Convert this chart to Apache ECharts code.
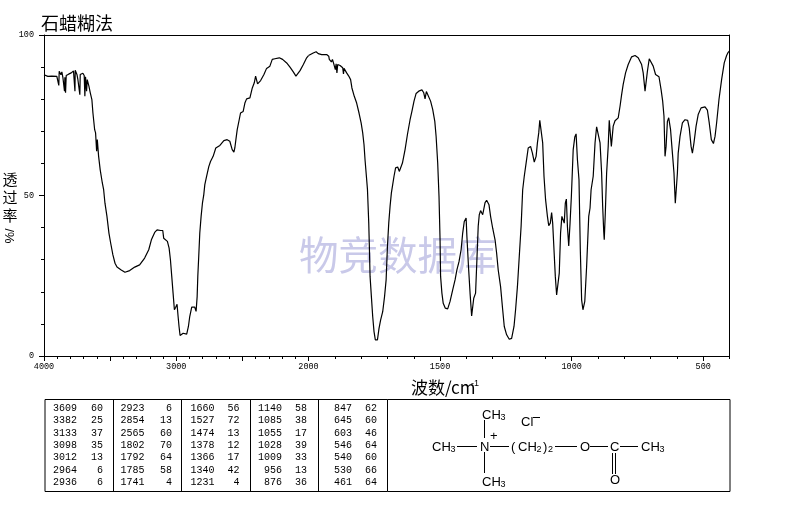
<!DOCTYPE html>
<html>
<head>
<meta charset="utf-8">
<style>html,body{margin:0;padding:0;background:#fff}#c{width:794px;height:510px}</style>
<script src="https://cdn.jsdelivr.net/npm/echarts@6/dist/echarts.min.js"></script>
</head>
<body>
<div id="c"></div>
<script>
const title = '石蜡糊法';
const watermark = '物竞数据库';
const yLabels = [0, 50, 100];
const xLabelsHigh = [4000, 3000, 2000];
const xLabelsLow = [1500, 1000, 500];
const xTicksLow = [1900,1800,1700,1600,1400,1300,1200,1100,900,800,700,600,400];

const wnHigh = [4000,3971,3941,3926,3903,3890,3888,3885,3872,3865,3857,3847,3845,3842,3837,3832,3814,3794,3777,3769,3766,3764,3751,3744,3736,3729,3726,3716,3706,3696,3691,3686,3678,3673,3660,3650,3638,3630,3617,3610,3602,3597,3587,3575,3559,3549,3539,3524,3509,3496,3479,3463,3448,3416,3388,3352,3314,3277,3239,3208,3188,3163,3145,3130,3118,3102,3095,3082,3067,3054,3044,3034,3024,3014,3004,2994,2986,2979,2971,2948,2921,2908,2898,2883,2860,2850,2842,2837,2830,2822,2812,2802,2792,2784,2771,2754,2741,2721,2701,2670,2640,2615,2595,2577,2564,2557,2549,2539,2524,2514,2494,2481,2468,2443,2425,2410,2400,2393,2385,2375,2362,2337,2317,2292,2274,2254,2221,2196,2165,2140,2115,2095,2082,2064,2039,2014,2000];
const tHigh = [87.6,87.1,87.2,87.5,87.1,87.3,84.3,88.7,87.6,88.5,86.7,86.1,82.5,86.8,82.0,87.4,87.8,88.2,88.8,89.0,82.5,89.0,87.7,86.2,86.1,81.4,87.7,88.2,88.1,87.4,80.9,87.0,82.5,86.1,84.0,82.0,79.9,75.7,70.5,69.5,63.8,67.4,62.2,58.0,53.9,51.8,47.6,43.5,38.3,35.2,31.5,28.9,27.7,26.8,26.1,26.6,27.7,28.4,30.5,33.1,36.2,38.5,39.3,39.8,39.1,39.1,36.7,37.2,35.7,33.6,30.0,24.8,19.6,14.4,15.2,16.1,12.3,9.2,6.4,7.1,6.8,9.2,12.3,15.2,15.2,13.9,18.5,24.8,31.0,38.3,43.5,47.6,50.2,53.4,55.9,59.0,60.6,62.2,64.8,65.6,67.1,67.4,66.9,64.3,63.5,64.8,67.4,70.5,73.6,75.7,76.2,78.8,80.1,80.4,83.5,85.1,87.2,87.2,84.8,84.4,85.8,87.7,89.6,90.3,92.4,92.6,92.9,92.4,91.3,90.0,88.5,87.2,87.2,88.9,90.8,92.9,93.6];

const wnLow = [2000,1994,1982,1971,1963,1950,1931,1923,1921,1917,1913,1909,1905,1902,1898,1895,1892,1889,1880,1870,1867,1865,1855,1847,1840,1835,1826,1817,1808,1800,1794,1789,1785,1780,1776,1771,1769,1766,1761,1756,1751,1746,1738,1732,1726,1718,1711,1705,1700,1695,1690,1685,1680,1675,1669,1661,1655,1650,1643,1633,1624,1614,1607,1599,1591,1581,1569,1562,1557,1552,1546,1536,1528,1520,1515,1509,1504,1500,1498,1493,1488,1480,1471,1462,1452,1443,1436,1428,1420,1414,1408,1401,1398,1392,1386,1380,1376,1372,1365,1361,1355,1351,1346,1338,1329,1323,1314,1308,1300,1291,1285,1279,1270,1262,1256,1247,1237,1228,1219,1213,1206,1199,1192,1186,1180,1173,1165,1156,1149,1142,1135,1130,1125,1121,1115,1110,1105,1099,1092,1087,1081,1076,1072,1067,1062,1057,1052,1047,1042,1037,1033,1028,1024,1020,1016,1011,1006,1001,994,988,983,978,972,967,962,957,950,943,935,930,926,918,911,905,899,892,886,882,878,876,872,867,861,857,853,849,847,842,835,823,816,810,804,795,785,772,759,747,734,728,721,717,712,705,698,690,681,668,660,654,649,645,641,636,631,624,617,611,606,602,598,595,588,579,569,559,553,546,541,535,527,519,508,493,484,477,469,461,455,449,440,430,420,411,405,400];
const tLow = [93.6,94.1,94.4,94.8,94.2,93.9,93.9,93.4,92.4,92.9,91.6,92.4,91.3,90.8,89.2,91.0,88.2,90.8,90.5,89.8,87.9,89.6,88.2,87.2,86.1,83.5,80.9,78.8,75.7,72.6,69.5,65.8,61.0,56.0,52.0,41.4,35.1,24.8,18.5,12.3,7.6,5.0,5.0,8.6,11.2,13.8,18.5,23.7,34.1,41.4,46.6,50.8,53.4,56.0,58.6,58.9,57.5,57.0,60.1,64.3,69.0,73.6,76.2,79.4,81.8,82.5,82.9,82.0,80.1,82.4,81.8,79.4,76.8,73.1,68.4,60.1,49.7,36.2,24.8,19.6,16.4,14.9,14.7,17.0,20.6,23.7,26.8,29.4,33.1,38.3,41.9,43.0,37.2,27.9,19.6,12.5,12.8,18.0,19.6,27.9,40.4,44.0,45.3,44.0,47.8,48.5,47.1,43.5,39.8,36.2,32.0,26.8,21.6,14.4,9.2,6.6,5.2,5.5,9.2,14.4,21.6,31.0,40.4,51.8,56.0,60.1,64.8,65.3,63.2,60.4,62.2,66.4,69.5,73.4,73.4,66.4,56.0,48.7,43.5,40.6,41.4,44.7,41.4,33.1,24.8,19.0,18.7,25.8,38.3,43.5,44.0,41.4,47.6,48.9,40.4,34.3,41.4,49.7,64.3,68.2,69.2,61.2,54.9,33.1,17.5,14.4,17.0,27.9,43.5,46.1,51.8,56.0,66.4,71.4,71.6,66.4,57.0,46.6,38.8,36.2,44.5,57.0,65.3,73.4,73.6,65.3,65.1,71.6,73.3,74.2,77.8,81.4,84.6,88.2,90.8,93.2,93.6,92.9,90.8,88.2,82.5,82.5,88.7,92.6,92.6,90.3,87.7,87.0,83.0,79.4,74.7,62.2,65.3,73.1,74.2,70.5,63.2,57.0,47.6,47.6,57.0,63.2,68.4,72.6,73.6,73.4,71.0,65.3,63.2,66.4,71.6,75.2,77.3,77.6,76.6,72.6,67.4,66.2,68.4,72.6,79.9,86.1,91.3,93.6,94.6,95.0];

const peakWn = [3609,3382,3133,3098,3012,2964,2936, 2923,2854,2565,1802,1792,1785,1741, 1660,1527,1474,1378,1366,1340,1231, 1140,1085,1055,1028,1009,956,876, 847,645,603,546,540,530,461];
const peakT  = [60,25,37,35,13,6,6, 6,13,60,70,64,58,4, 56,72,13,12,17,42,4, 58,38,17,39,33,13,36, 62,60,46,64,60,66,64];

const black = '#000';
const monoFont = '"Liberation Mono", monospace';
const sansFont = '"Liberation Sans", sans-serif';
const cjkFont = '"Noto Sans CJK SC", sans-serif';

function zip(a, b) { return a.map((v, i) => [v, b[i]]); }
function txt(x, y, text, size, family, align, extra) {
  return Object.assign({
    type: 'text', x, y, silent: true,
    style: { text, fill: black, font: size + 'px ' + family, textAlign: align || 'left', textVerticalAlign: 'middle' }
  }, extra || {});
}
function seg(x1, y1, x2, y2) {
  return { type: 'line', silent: true, shape: { x1, y1, x2, y2 }, style: { stroke: black, lineWidth: 1 } };
}
function chem(x, y, main, sub) {
  const out = [txt(x, y, main, 13, sansFont)];
  const w = main.length === 2 ? 18.6 : 9.5;
  if (sub) out.push(txt(x + w, y + 3, sub, 9, sansFont));
  return out;
}

const gfx = [];
gfx.push(txt(41, 23, title, 18, cjkFont));
gfx.push(txt(299, 255, watermark, 39.5, cjkFont, 'left', { z: 0 }));
gfx[gfx.length - 1].style.fill = '#c9c9e9';
['透', '过', '率'].forEach((c, i) => gfx.push(txt(10, 179 + i * 18, c, 15, cjkFont, 'center')));
gfx.push(txt(10, 236, '%/', 13, sansFont, 'center', { rotation: Math.PI / 2 }));
gfx.push(txt(411, 388, '波数/cm', 17, cjkFont));
gfx.push(txt(471, 384, '-1', 9, sansFont));

gfx.push({ type: 'rect', silent: true, shape: { x: 45, y: 399.5, width: 685, height: 92 }, style: { fill: 'none', stroke: black, lineWidth: 1 } });
[113.5, 181.5, 250.5, 318.5, 387.5].forEach(x => gfx.push(seg(x, 399.5, x, 491.5)));

const colWnRight = [77, 144.5, 214.5, 282, 352];
const colTRight = [103, 172, 239.5, 307, 377];
peakWn.forEach((wn, i) => {
  const col = Math.floor(i / 7), row = i % 7;
  const y = 408.3 + row * 12.33;
  gfx.push(txt(colWnRight[col], y, String(wn), 10, monoFont, 'right'));
  gfx.push(txt(colTRight[col], y, String(peakT[i]), 10, monoFont, 'right'));
});

gfx.push(...chem(482, 415, 'CH', '3'));
gfx.push(...chem(521, 422, 'Cl'));
gfx.push(seg(533, 417.5, 540, 417.5));
gfx.push(txt(490, 436.5, '+', 13, sansFont));
gfx.push(...chem(432, 447, 'CH', '3'));
gfx.push(seg(457, 446.5, 477, 446.5));
gfx.push(...chem(480, 447, 'N'));
gfx.push(seg(484.5, 420, 484.5, 438));
gfx.push(seg(484.5, 452, 484.5, 473));
gfx.push(seg(490, 446.5, 509, 446.5));
gfx.push(txt(511, 447, '(', 13, sansFont));
gfx.push(...chem(518, 447, 'CH', '2'));
gfx.push(txt(543, 447, ')', 13, sansFont));
gfx.push(txt(548, 450, '2', 9, sansFont));
gfx.push(seg(555, 446.5, 577, 446.5));
gfx.push(...chem(580, 447, 'O'));
gfx.push(seg(590, 446.5, 608, 446.5));
gfx.push(...chem(610, 447, 'C'));
gfx.push(seg(620, 446.5, 638, 446.5));
gfx.push(...chem(641, 447, 'CH', '3'));
gfx.push(seg(612.5, 453, 612.5, 474));
gfx.push(seg(615.5, 453, 615.5, 474));
gfx.push(...chem(610, 480, 'O'));
gfx.push(...chem(482, 482, 'CH', '3'));

const plain = v => String(v);
const axisLabelStyle = { color: black, fontFamily: monoFont, fontSize: 8.5, formatter: plain };
const lineAxis = { show: true, lineStyle: { color: black, width: 1 } };
const offLabel = { show: false };

const option = {
  animation: false,
  backgroundColor: '#fff',
  grid: [
    { left: 44, top: 35, width: 264.5, height: 321 },
    { left: 308.5, top: 35, width: 421, height: 321 }
  ],
  xAxis: [
    { type: 'value', gridIndex: 0, inverse: true, min: 2000, max: 4000, interval: 500, position: 'bottom',
      splitLine: { show: false }, axisLine: lineAxis,
      axisTick: { show: true, length: 5, lineStyle: { color: black } },
      minorTick: { show: true, splitNumber: 5, length: 3, lineStyle: { color: black } },
      axisLabel: Object.assign({ margin: 6, customValues: xLabelsHigh }, axisLabelStyle) },
    { type: 'value', gridIndex: 1, inverse: true, min: 400, max: 2000, position: 'bottom',
      splitLine: { show: false }, axisLine: lineAxis,
      axisTick: { show: true, length: 5, customValues: xLabelsLow, lineStyle: { color: black } },
      axisLabel: Object.assign({ margin: 6, customValues: xLabelsLow }, axisLabelStyle) },
    { type: 'value', gridIndex: 1, inverse: true, min: 400, max: 2000, position: 'bottom',
      splitLine: { show: false }, axisLine: { show: false },
      axisTick: { show: true, length: 3, customValues: xTicksLow, lineStyle: { color: black } },
      axisLabel: offLabel },
    { type: 'value', gridIndex: 0, inverse: true, min: 2000, max: 4000, position: 'top',
      splitLine: { show: false }, axisLine: lineAxis, axisTick: { show: false }, axisLabel: offLabel },
    { type: 'value', gridIndex: 1, inverse: true, min: 400, max: 2000, position: 'top',
      splitLine: { show: false }, axisLine: lineAxis, axisTick: { show: false }, axisLabel: offLabel }
  ],
  yAxis: [
    { type: 'value', gridIndex: 0, min: 0, max: 100, interval: 50, position: 'left',
      splitLine: { show: false }, axisLine: lineAxis,
      axisTick: { show: true, length: 5, lineStyle: { color: black } },
      minorTick: { show: true, splitNumber: 5, length: 3, lineStyle: { color: black } },
      axisLabel: Object.assign({ margin: 10, customValues: yLabels }, axisLabelStyle) },
    { type: 'value', gridIndex: 1, min: 0, max: 100, position: 'right',
      splitLine: { show: false }, axisLine: lineAxis, axisTick: { show: false }, axisLabel: offLabel }
  ],
  graphic: { elements: gfx },
  series: [
    { type: 'line', xAxisIndex: 0, yAxisIndex: 0, data: zip(wnHigh, tHigh), showSymbol: false, z: 5,
      lineStyle: { color: black, width: 1.2 } },
    { type: 'line', xAxisIndex: 1, yAxisIndex: 1, data: zip(wnLow, tLow), showSymbol: false, z: 5,
      lineStyle: { color: black, width: 1.2 } }
  ]
};
echarts.init(document.getElementById('c'), null, { renderer: 'canvas' }).setOption(option);
</script>
</body>
</html>
